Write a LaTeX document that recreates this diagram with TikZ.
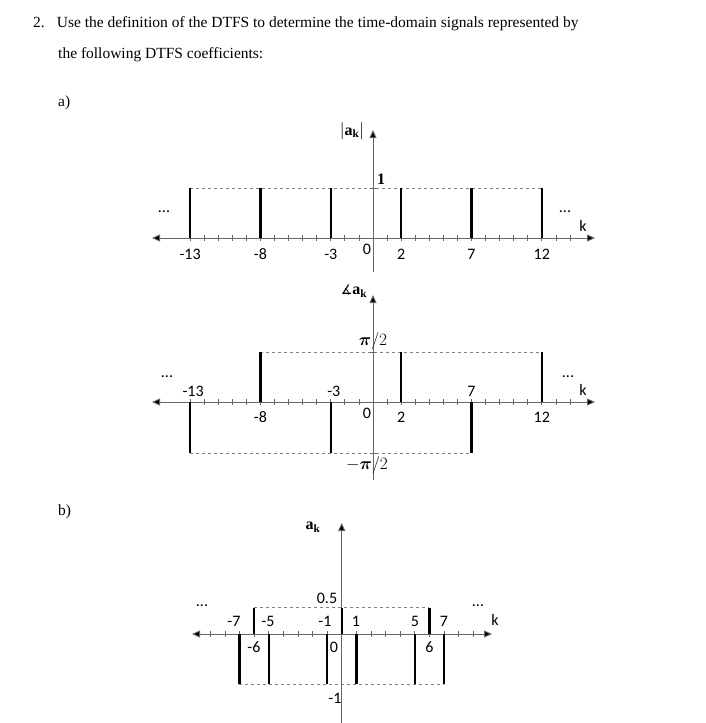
\documentclass[tikz,border=0pt]{standalone}
\usepackage{amsmath}
\usepackage{fontspec}
\setmainfont{Liberation Serif}
\newfontfamily\carlitofont{Carlito}
\newfontfamily\dejavufont{DejaVu Sans}
\usetikzlibrary{arrows.meta}
\begin{document}
\begin{tikzpicture}[x=1pt,y=-1pt,
  ax/.style={draw=gray!80!black,line width=0.9pt,{Triangle[length=8pt,width=7pt,fill=black]}-{Triangle[length=8pt,width=7pt,fill=black]}},
  vax/.style={draw=gray!80!black,line width=0.9pt,-{Triangle[length=8pt,width=7pt,fill=black]}},
  stem/.style={line width=2.4pt},
  dsh/.style={gray,dashed,line width=0.7pt},
  tk/.style={gray!80!black,line width=0.8pt},
  lb/.style={font=\carlitofont\fontsize{16}{16}\selectfont,inner sep=0pt},
  bl/.style={font=\bfseries\fontsize{16}{16}\selectfont,inner sep=0pt},
  tx/.style={font=\fontsize{15.5}{16}\selectfont,inner sep=0pt,anchor=west}]
\useasboundingbox (0,0) rectangle (705,723);
\fill[white] (0,0) rectangle (705,723);
\node[tx] (h1) at (33,24) {2.\hspace{12pt}Use the definition of the DTFS to determine the time-domain signals represented by};
\node[tx] (h2) at (58,55) {the following DTFS coefficients:};
\node[tx] (pa) at (58,103) {a)};
\node[tx] (pb) at (58,512) {b)};
% ---------- magnitude
\def\u{14.07}
\draw[ax] (152,238) -- (595,238);
\draw[vax] (373,272) -- (373,130);
\foreach \k in {-13,...,14} \draw[tk] (373+\k*\u,235) -- (373+\k*\u,241);
\draw[dsh] (190,188) -- (541.7,188);
\draw[tk] (370,188) -- (376,188);
\foreach \k in {-13,-8,-3,2,7,12} \draw[stem] (373+\k*\u,188) -- (373+\k*\u,238);
\foreach \k in {-13,-8,-3,2,7,12} \node[lb] at (373+\k*\u,254) {\k};
\node[lb] at (367,249) {0};
\node[bl,anchor=west] at (377,179) {1};
\node[bl] at (352,131) {$|\mathbf{a_k}|$};
\node[lb] at (164,212) {...};
\node[lb] at (565,212) {...};
\node[lb] at (583,226) {k};
% ---------- phase
\draw[ax] (152,402) -- (595,402);
\draw[vax] (373,480) -- (373,295);
\foreach \k in {-13,...,14} \draw[tk] (373+\k*\u,399) -- (373+\k*\u,405);
\draw[dsh] (260.4,352) -- (541.7,352);
\draw[dsh] (190,453) -- (471.5,453);
\draw[tk] (370,352) -- (376,352);
\draw[tk] (370,453) -- (376,453);
\foreach \k in {-8,2,12} \draw[stem] (373+\k*\u,352) -- (373+\k*\u,402);
\foreach \k in {-13,-3,7} \draw[stem] (373+\k*\u,402) -- (373+\k*\u,453);
\foreach \k in {-13,-3} \node[lb] at (373+\k*\u+3,391) {\k};
\node[lb] at (471.5,391) {7};
\foreach \k in {-8,2,12} \node[lb] at (373+\k*\u,417) {\k};
\node[lb] at (367,413) {0};
\node[bl] at (373,341) {$\boldsymbol{\pi}/2$};
\node[bl] at (367,465) {$-\boldsymbol{\pi}/2$};
\node[bl] at (354,291) {{\dejavufont\mdseries\fontsize{13}{13}\selectfont ∡}$\mathbf{a_k}$};
\node[lb] at (167,377) {...};
\node[lb] at (568,377) {...};
\node[lb] at (583,390) {k};
% ---------- part b
\def\v{14.6}
\draw[ax] (192,634) -- (492,634);
\draw[vax] (341.7,723) -- (341.7,523);
\foreach \k in {-9,...,9} \draw[tk] (341.7+\k*\v,631) -- (341.7+\k*\v,637);
\draw[dsh] (254,607.7) -- (429.4,607.7);
\draw[dsh] (239.3,684) -- (444,684);
\foreach \k in {-6,0,6} \draw[stem] (341.7+\k*\v,607.7) -- (341.7+\k*\v,634);
\foreach \k in {-7,-5,-1,1,5,7} \draw[stem] (341.7+\k*\v,634) -- (341.7+\k*\v,684);
\node[lb] at (234,621) {-7};
\node[lb] at (268,621) {-5};
\node[lb] at (325,621) {-1};
\node[lb] at (356,621) {1};
\node[lb] at (415,621) {5};
\node[lb] at (444,621) {7};
\node[lb] at (254,647) {-6};
\node[lb] at (334,647) {0};
\node[lb] at (429.4,647) {6};
\node[lb] at (327,598) {0.5};
\node[lb] at (335,698) {-1};
\node[bl] at (313,527) {$\mathbf{a_k}$};
\node[lb] at (202,606) {...};
\node[lb] at (478,606) {...};
\node[lb] at (495,620) {k};
\end{tikzpicture}
\end{document}
